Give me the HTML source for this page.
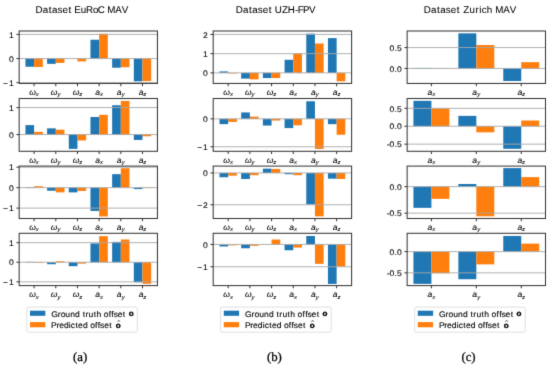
<!DOCTYPE html>
<html><head><meta charset="utf-8"><style>
html,body{margin:0;padding:0;background:#fff;}
svg{display:block;will-change:transform;}
text{text-rendering:geometricPrecision;font-family:"Liberation Sans",sans-serif;fill:#000000;stroke:#000000;stroke-width:0.1px;}
text.xl{stroke-width:0.05px;}
text.ti{stroke-width:0.04px;}
text.bo{fill:#000;stroke:#000;stroke-width:0.35px;}
text.cap{font-family:"Liberation Serif",serif;font-size:12.8px;fill:#000;stroke:#000;stroke-width:0.25px;}
</style></head><body>
<svg width="550" height="366" viewBox="0 0 550 366">
<defs><filter id="bl" x="0" y="0" width="550" height="366" filterUnits="userSpaceOnUse" color-interpolation-filters="sRGB"><feConvolveMatrix order="3" kernelMatrix="0.0183 0.1353 0.0183 0.1353 1.0000 0.1353 0.0183 0.1353 0.0183" divisor="1.6146" edgeMode="duplicate" preserveAlpha="true"/></filter></defs>
<g filter="url(#bl)">
<rect width="550" height="366" fill="#fff"/>
<rect x="25.44" y="58.55" width="8.67" height="8.19" fill="#1f77b4"/>
<rect x="34.11" y="58.55" width="8.67" height="8.44" fill="#ff7f0e"/>
<rect x="47.11" y="58.55" width="8.67" height="5.3" fill="#1f77b4"/>
<rect x="55.78" y="58.55" width="8.67" height="4.34" fill="#ff7f0e"/>
<rect x="77.46" y="58.55" width="8.67" height="2.89" fill="#ff7f0e"/>
<rect x="90.47" y="39.75" width="8.67" height="18.8" fill="#1f77b4"/>
<rect x="99.14" y="33.73" width="8.67" height="24.82" fill="#ff7f0e"/>
<rect x="112.14" y="58.55" width="8.67" height="9.16" fill="#1f77b4"/>
<rect x="120.82" y="58.55" width="8.67" height="8.68" fill="#ff7f0e"/>
<rect x="133.82" y="58.55" width="8.67" height="22.77" fill="#1f77b4"/>
<rect x="142.49" y="58.55" width="8.67" height="22.53" fill="#ff7f0e"/>
<line x1="19.15" x2="157.45" y1="34.45" y2="34.45" stroke="#a8a8a8" stroke-width="1.0" stroke-opacity="0.9"/>
<line x1="19.15" x2="157.45" y1="58.55" y2="58.55" stroke="#a8a8a8" stroke-width="1.0" stroke-opacity="0.9"/>
<line x1="19.15" x2="157.45" y1="82.65" y2="82.65" stroke="#a8a8a8" stroke-width="1.0" stroke-opacity="0.9"/>
<rect x="19.15" y="31" width="138.3" height="52.45" fill="none" stroke="#383838" stroke-width="1.05"/>
<line x1="16.45" x2="19.15" y1="34.45" y2="34.45" stroke="#383838" stroke-width="1.05"/>
<text transform="translate(8.85,37.61) scale(1.05,1)" x="0.06" y="0" font-size="8.16">1</text>
<line x1="16.45" x2="19.15" y1="58.55" y2="58.55" stroke="#383838" stroke-width="1.05"/>
<text transform="translate(8.85,61.71) scale(1.05,1)" x="0.06" y="0" font-size="8.16">0</text>
<line x1="16.45" x2="19.15" y1="82.65" y2="82.65" stroke="#383838" stroke-width="1.05"/>
<text transform="translate(2.4,85.81) scale(1.05,1)" x="0.69 6.21" y="0" font-size="8.16">−1</text>
<line x1="34.11" x2="34.11" y1="83.45" y2="86.15" stroke="#383838" stroke-width="1.05"/>
<text transform="translate(29.29,94.95) scale(1.05,1)" x="-0.11" y="0" font-size="8.16" font-style="italic" class="xl">ω</text>
<text transform="translate(35.74,96.35) scale(1.05,1)" x="0.09" y="0" font-size="5.71" font-style="italic" class="xl">x</text>
<line x1="55.78" x2="55.78" y1="83.45" y2="86.15" stroke="#383838" stroke-width="1.05"/>
<text transform="translate(50.97,94.95) scale(1.05,1)" x="-0.11" y="0" font-size="8.16" font-style="italic" class="xl">ω</text>
<text transform="translate(57.41,96.35) scale(1.05,1)" x="0.09" y="0" font-size="5.71" font-style="italic" class="xl">y</text>
<line x1="77.46" x2="77.46" y1="83.45" y2="86.15" stroke="#383838" stroke-width="1.05"/>
<text transform="translate(72.82,94.95) scale(1.05,1)" x="-0.11" y="0" font-size="8.16" font-style="italic" class="xl">ω</text>
<text transform="translate(79.27,96.35) scale(1.05,1)" x="-0.08" y="0" font-size="5.71" font-style="italic" class="xl">z</text>
<line x1="99.14" x2="99.14" y1="83.45" y2="86.15" stroke="#383838" stroke-width="1.05"/>
<text transform="translate(95.18,94.95) scale(1.05,1)" x="-0.02" y="0" font-size="8.16" font-style="italic" class="xl">a</text>
<text transform="translate(99.9,96.35) scale(1.05,1)" x="0.09" y="0" font-size="5.71" font-style="italic" class="xl">x</text>
<line x1="120.82" x2="120.82" y1="83.45" y2="86.15" stroke="#383838" stroke-width="1.05"/>
<text transform="translate(116.86,94.95) scale(1.05,1)" x="-0.02" y="0" font-size="8.16" font-style="italic" class="xl">a</text>
<text transform="translate(121.58,96.35) scale(1.05,1)" x="0.09" y="0" font-size="5.71" font-style="italic" class="xl">y</text>
<line x1="142.49" x2="142.49" y1="83.45" y2="86.15" stroke="#383838" stroke-width="1.05"/>
<text transform="translate(138.72,94.95) scale(1.05,1)" x="-0.02" y="0" font-size="8.16" font-style="italic" class="xl">a</text>
<text transform="translate(143.44,96.35) scale(1.05,1)" x="-0.08" y="0" font-size="5.71" font-style="italic" class="xl">z</text>
<rect x="25.44" y="125.1" width="8.67" height="9.45" fill="#1f77b4"/>
<rect x="34.11" y="131.85" width="8.67" height="2.7" fill="#ff7f0e"/>
<rect x="47.11" y="128.34" width="8.67" height="6.21" fill="#1f77b4"/>
<rect x="55.78" y="129.69" width="8.67" height="4.86" fill="#ff7f0e"/>
<rect x="68.79" y="134.55" width="8.67" height="14.31" fill="#1f77b4"/>
<rect x="77.46" y="134.55" width="8.67" height="5.94" fill="#ff7f0e"/>
<rect x="90.47" y="117" width="8.67" height="17.55" fill="#1f77b4"/>
<rect x="99.14" y="114.84" width="8.67" height="19.71" fill="#ff7f0e"/>
<rect x="112.14" y="105.26" width="8.67" height="29.29" fill="#1f77b4"/>
<rect x="120.82" y="100.96" width="8.67" height="33.59" fill="#ff7f0e"/>
<rect x="133.82" y="134.55" width="8.67" height="5.4" fill="#1f77b4"/>
<rect x="142.49" y="134.55" width="8.67" height="1.7" fill="#ff7f0e"/>
<line x1="19.15" x2="157.45" y1="107.55" y2="107.55" stroke="#a8a8a8" stroke-width="1.0" stroke-opacity="0.9"/>
<line x1="19.15" x2="157.45" y1="134.55" y2="134.55" stroke="#a8a8a8" stroke-width="1.0" stroke-opacity="0.9"/>
<rect x="19.15" y="98.5" width="138.3" height="52.8" fill="none" stroke="#383838" stroke-width="1.05"/>
<line x1="16.45" x2="19.15" y1="107.55" y2="107.55" stroke="#383838" stroke-width="1.05"/>
<text transform="translate(8.85,110.71) scale(1.05,1)" x="0.06" y="0" font-size="8.16">1</text>
<line x1="16.45" x2="19.15" y1="134.55" y2="134.55" stroke="#383838" stroke-width="1.05"/>
<text transform="translate(8.85,137.71) scale(1.05,1)" x="0.06" y="0" font-size="8.16">0</text>
<line x1="34.11" x2="34.11" y1="151.3" y2="154" stroke="#383838" stroke-width="1.05"/>
<text transform="translate(29.29,162.8) scale(1.05,1)" x="-0.11" y="0" font-size="8.16" font-style="italic" class="xl">ω</text>
<text transform="translate(35.74,164.2) scale(1.05,1)" x="0.09" y="0" font-size="5.71" font-style="italic" class="xl">x</text>
<line x1="55.78" x2="55.78" y1="151.3" y2="154" stroke="#383838" stroke-width="1.05"/>
<text transform="translate(50.97,162.8) scale(1.05,1)" x="-0.11" y="0" font-size="8.16" font-style="italic" class="xl">ω</text>
<text transform="translate(57.41,164.2) scale(1.05,1)" x="0.09" y="0" font-size="5.71" font-style="italic" class="xl">y</text>
<line x1="77.46" x2="77.46" y1="151.3" y2="154" stroke="#383838" stroke-width="1.05"/>
<text transform="translate(72.82,162.8) scale(1.05,1)" x="-0.11" y="0" font-size="8.16" font-style="italic" class="xl">ω</text>
<text transform="translate(79.27,164.2) scale(1.05,1)" x="-0.08" y="0" font-size="5.71" font-style="italic" class="xl">z</text>
<line x1="99.14" x2="99.14" y1="151.3" y2="154" stroke="#383838" stroke-width="1.05"/>
<text transform="translate(95.18,162.8) scale(1.05,1)" x="-0.02" y="0" font-size="8.16" font-style="italic" class="xl">a</text>
<text transform="translate(99.9,164.2) scale(1.05,1)" x="0.09" y="0" font-size="5.71" font-style="italic" class="xl">x</text>
<line x1="120.82" x2="120.82" y1="151.3" y2="154" stroke="#383838" stroke-width="1.05"/>
<text transform="translate(116.86,162.8) scale(1.05,1)" x="-0.02" y="0" font-size="8.16" font-style="italic" class="xl">a</text>
<text transform="translate(121.58,164.2) scale(1.05,1)" x="0.09" y="0" font-size="5.71" font-style="italic" class="xl">y</text>
<line x1="142.49" x2="142.49" y1="151.3" y2="154" stroke="#383838" stroke-width="1.05"/>
<text transform="translate(138.72,162.8) scale(1.05,1)" x="-0.02" y="0" font-size="8.16" font-style="italic" class="xl">a</text>
<text transform="translate(143.44,164.2) scale(1.05,1)" x="-0.08" y="0" font-size="5.71" font-style="italic" class="xl">z</text>
<rect x="25.44" y="187.65" width="8.67" height="0.41" fill="#1f77b4"/>
<rect x="34.11" y="186.22" width="8.67" height="1.43" fill="#ff7f0e"/>
<rect x="47.11" y="187.65" width="8.67" height="3.07" fill="#1f77b4"/>
<rect x="55.78" y="187.65" width="8.67" height="4.7" fill="#ff7f0e"/>
<rect x="68.79" y="187.65" width="8.67" height="4.7" fill="#1f77b4"/>
<rect x="77.46" y="187.65" width="8.67" height="3.27" fill="#ff7f0e"/>
<rect x="90.47" y="187.65" width="8.67" height="23.31" fill="#1f77b4"/>
<rect x="99.14" y="187.65" width="8.67" height="28.83" fill="#ff7f0e"/>
<rect x="112.14" y="174.15" width="8.67" height="13.5" fill="#1f77b4"/>
<rect x="120.82" y="168.22" width="8.67" height="19.43" fill="#ff7f0e"/>
<rect x="133.82" y="187.65" width="8.67" height="1.43" fill="#1f77b4"/>
<rect x="142.49" y="187.65" width="8.67" height="0.41" fill="#ff7f0e"/>
<line x1="19.15" x2="157.45" y1="167.2" y2="167.2" stroke="#a8a8a8" stroke-width="1.0" stroke-opacity="0.9"/>
<line x1="19.15" x2="157.45" y1="187.65" y2="187.65" stroke="#a8a8a8" stroke-width="1.0" stroke-opacity="0.9"/>
<line x1="19.15" x2="157.45" y1="208.1" y2="208.1" stroke="#a8a8a8" stroke-width="1.0" stroke-opacity="0.9"/>
<rect x="19.15" y="166.1" width="138.3" height="52.4" fill="none" stroke="#383838" stroke-width="1.05"/>
<line x1="16.45" x2="19.15" y1="167.2" y2="167.2" stroke="#383838" stroke-width="1.05"/>
<text transform="translate(8.85,170.36) scale(1.05,1)" x="0.06" y="0" font-size="8.16">1</text>
<line x1="16.45" x2="19.15" y1="187.65" y2="187.65" stroke="#383838" stroke-width="1.05"/>
<text transform="translate(8.85,190.81) scale(1.05,1)" x="0.06" y="0" font-size="8.16">0</text>
<line x1="16.45" x2="19.15" y1="208.1" y2="208.1" stroke="#383838" stroke-width="1.05"/>
<text transform="translate(2.4,211.26) scale(1.05,1)" x="0.69 6.21" y="0" font-size="8.16">−1</text>
<line x1="34.11" x2="34.11" y1="218.5" y2="221.2" stroke="#383838" stroke-width="1.05"/>
<text transform="translate(29.29,230) scale(1.05,1)" x="-0.11" y="0" font-size="8.16" font-style="italic" class="xl">ω</text>
<text transform="translate(35.74,231.4) scale(1.05,1)" x="0.09" y="0" font-size="5.71" font-style="italic" class="xl">x</text>
<line x1="55.78" x2="55.78" y1="218.5" y2="221.2" stroke="#383838" stroke-width="1.05"/>
<text transform="translate(50.97,230) scale(1.05,1)" x="-0.11" y="0" font-size="8.16" font-style="italic" class="xl">ω</text>
<text transform="translate(57.41,231.4) scale(1.05,1)" x="0.09" y="0" font-size="5.71" font-style="italic" class="xl">y</text>
<line x1="77.46" x2="77.46" y1="218.5" y2="221.2" stroke="#383838" stroke-width="1.05"/>
<text transform="translate(72.82,230) scale(1.05,1)" x="-0.11" y="0" font-size="8.16" font-style="italic" class="xl">ω</text>
<text transform="translate(79.27,231.4) scale(1.05,1)" x="-0.08" y="0" font-size="5.71" font-style="italic" class="xl">z</text>
<line x1="99.14" x2="99.14" y1="218.5" y2="221.2" stroke="#383838" stroke-width="1.05"/>
<text transform="translate(95.18,230) scale(1.05,1)" x="-0.02" y="0" font-size="8.16" font-style="italic" class="xl">a</text>
<text transform="translate(99.9,231.4) scale(1.05,1)" x="0.09" y="0" font-size="5.71" font-style="italic" class="xl">x</text>
<line x1="120.82" x2="120.82" y1="218.5" y2="221.2" stroke="#383838" stroke-width="1.05"/>
<text transform="translate(116.86,230) scale(1.05,1)" x="-0.02" y="0" font-size="8.16" font-style="italic" class="xl">a</text>
<text transform="translate(121.58,231.4) scale(1.05,1)" x="0.09" y="0" font-size="5.71" font-style="italic" class="xl">y</text>
<line x1="142.49" x2="142.49" y1="218.5" y2="221.2" stroke="#383838" stroke-width="1.05"/>
<text transform="translate(138.72,230) scale(1.05,1)" x="-0.02" y="0" font-size="8.16" font-style="italic" class="xl">a</text>
<text transform="translate(143.44,231.4) scale(1.05,1)" x="-0.08" y="0" font-size="5.71" font-style="italic" class="xl">z</text>
<rect x="25.44" y="261.86" width="8.67" height="0.39" fill="#1f77b4"/>
<rect x="34.11" y="262.25" width="8.67" height="0.59" fill="#ff7f0e"/>
<rect x="47.11" y="262.25" width="8.67" height="1.96" fill="#1f77b4"/>
<rect x="55.78" y="261.27" width="8.67" height="0.98" fill="#ff7f0e"/>
<rect x="68.79" y="262.25" width="8.67" height="3.92" fill="#1f77b4"/>
<rect x="77.46" y="262.25" width="8.67" height="1.37" fill="#ff7f0e"/>
<rect x="90.47" y="243.43" width="8.67" height="18.82" fill="#1f77b4"/>
<rect x="99.14" y="236.18" width="8.67" height="26.07" fill="#ff7f0e"/>
<rect x="112.14" y="241.87" width="8.67" height="20.38" fill="#1f77b4"/>
<rect x="120.82" y="239.51" width="8.67" height="22.74" fill="#ff7f0e"/>
<rect x="133.82" y="262.25" width="8.67" height="19.99" fill="#1f77b4"/>
<rect x="142.49" y="262.25" width="8.67" height="21.56" fill="#ff7f0e"/>
<line x1="19.15" x2="157.45" y1="242.65" y2="242.65" stroke="#a8a8a8" stroke-width="1.0" stroke-opacity="0.9"/>
<line x1="19.15" x2="157.45" y1="262.25" y2="262.25" stroke="#a8a8a8" stroke-width="1.0" stroke-opacity="0.9"/>
<line x1="19.15" x2="157.45" y1="281.85" y2="281.85" stroke="#a8a8a8" stroke-width="1.0" stroke-opacity="0.9"/>
<rect x="19.15" y="233.3" width="138.3" height="52.3" fill="none" stroke="#383838" stroke-width="1.05"/>
<line x1="16.45" x2="19.15" y1="242.65" y2="242.65" stroke="#383838" stroke-width="1.05"/>
<text transform="translate(8.85,245.81) scale(1.05,1)" x="0.06" y="0" font-size="8.16">1</text>
<line x1="16.45" x2="19.15" y1="262.25" y2="262.25" stroke="#383838" stroke-width="1.05"/>
<text transform="translate(8.85,265.41) scale(1.05,1)" x="0.06" y="0" font-size="8.16">0</text>
<line x1="16.45" x2="19.15" y1="281.85" y2="281.85" stroke="#383838" stroke-width="1.05"/>
<text transform="translate(2.4,285.01) scale(1.05,1)" x="0.69 6.21" y="0" font-size="8.16">−1</text>
<line x1="34.11" x2="34.11" y1="285.6" y2="288.3" stroke="#383838" stroke-width="1.05"/>
<text transform="translate(29.29,297.1) scale(1.05,1)" x="-0.11" y="0" font-size="8.16" font-style="italic" class="xl">ω</text>
<text transform="translate(35.74,298.5) scale(1.05,1)" x="0.09" y="0" font-size="5.71" font-style="italic" class="xl">x</text>
<line x1="55.78" x2="55.78" y1="285.6" y2="288.3" stroke="#383838" stroke-width="1.05"/>
<text transform="translate(50.97,297.1) scale(1.05,1)" x="-0.11" y="0" font-size="8.16" font-style="italic" class="xl">ω</text>
<text transform="translate(57.41,298.5) scale(1.05,1)" x="0.09" y="0" font-size="5.71" font-style="italic" class="xl">y</text>
<line x1="77.46" x2="77.46" y1="285.6" y2="288.3" stroke="#383838" stroke-width="1.05"/>
<text transform="translate(72.82,297.1) scale(1.05,1)" x="-0.11" y="0" font-size="8.16" font-style="italic" class="xl">ω</text>
<text transform="translate(79.27,298.5) scale(1.05,1)" x="-0.08" y="0" font-size="5.71" font-style="italic" class="xl">z</text>
<line x1="99.14" x2="99.14" y1="285.6" y2="288.3" stroke="#383838" stroke-width="1.05"/>
<text transform="translate(95.18,297.1) scale(1.05,1)" x="-0.02" y="0" font-size="8.16" font-style="italic" class="xl">a</text>
<text transform="translate(99.9,298.5) scale(1.05,1)" x="0.09" y="0" font-size="5.71" font-style="italic" class="xl">x</text>
<line x1="120.82" x2="120.82" y1="285.6" y2="288.3" stroke="#383838" stroke-width="1.05"/>
<text transform="translate(116.86,297.1) scale(1.05,1)" x="-0.02" y="0" font-size="8.16" font-style="italic" class="xl">a</text>
<text transform="translate(121.58,298.5) scale(1.05,1)" x="0.09" y="0" font-size="5.71" font-style="italic" class="xl">y</text>
<line x1="142.49" x2="142.49" y1="285.6" y2="288.3" stroke="#383838" stroke-width="1.05"/>
<text transform="translate(138.72,297.1) scale(1.05,1)" x="-0.02" y="0" font-size="8.16" font-style="italic" class="xl">a</text>
<text transform="translate(143.44,298.5) scale(1.05,1)" x="-0.08" y="0" font-size="5.71" font-style="italic" class="xl">z</text>
<rect x="219.49" y="71.41" width="8.68" height="1.44" fill="#1f77b4"/>
<rect x="228.17" y="72.85" width="8.68" height="0.58" fill="#ff7f0e"/>
<rect x="241.18" y="72.85" width="8.68" height="5.76" fill="#1f77b4"/>
<rect x="249.86" y="72.85" width="8.68" height="6.53" fill="#ff7f0e"/>
<rect x="262.88" y="72.85" width="8.68" height="5.18" fill="#1f77b4"/>
<rect x="271.55" y="72.85" width="8.68" height="5.18" fill="#ff7f0e"/>
<rect x="284.57" y="59.79" width="8.68" height="13.06" fill="#1f77b4"/>
<rect x="293.25" y="53.65" width="8.68" height="19.2" fill="#ff7f0e"/>
<rect x="306.26" y="33.68" width="8.68" height="39.17" fill="#1f77b4"/>
<rect x="314.94" y="43.47" width="8.68" height="29.38" fill="#ff7f0e"/>
<rect x="327.95" y="38.1" width="8.68" height="34.75" fill="#1f77b4"/>
<rect x="336.63" y="72.85" width="8.68" height="8.45" fill="#ff7f0e"/>
<line x1="213.2" x2="351.6" y1="34.45" y2="34.45" stroke="#a8a8a8" stroke-width="1.0" stroke-opacity="0.9"/>
<line x1="213.2" x2="351.6" y1="53.65" y2="53.65" stroke="#a8a8a8" stroke-width="1.0" stroke-opacity="0.9"/>
<line x1="213.2" x2="351.6" y1="72.85" y2="72.85" stroke="#a8a8a8" stroke-width="1.0" stroke-opacity="0.9"/>
<rect x="213.2" y="31" width="138.4" height="52.45" fill="none" stroke="#383838" stroke-width="1.05"/>
<line x1="210.5" x2="213.2" y1="34.45" y2="34.45" stroke="#383838" stroke-width="1.05"/>
<text transform="translate(202.9,37.61) scale(1.05,1)" x="0.06" y="0" font-size="8.16">2</text>
<line x1="210.5" x2="213.2" y1="53.65" y2="53.65" stroke="#383838" stroke-width="1.05"/>
<text transform="translate(202.9,56.81) scale(1.05,1)" x="0.06" y="0" font-size="8.16">1</text>
<line x1="210.5" x2="213.2" y1="72.85" y2="72.85" stroke="#383838" stroke-width="1.05"/>
<text transform="translate(202.9,76.01) scale(1.05,1)" x="0.06" y="0" font-size="8.16">0</text>
<line x1="228.17" x2="228.17" y1="83.45" y2="86.15" stroke="#383838" stroke-width="1.05"/>
<text transform="translate(223.35,94.95) scale(1.05,1)" x="-0.11" y="0" font-size="8.16" font-style="italic" class="xl">ω</text>
<text transform="translate(229.8,96.35) scale(1.05,1)" x="0.09" y="0" font-size="5.71" font-style="italic" class="xl">x</text>
<line x1="249.86" x2="249.86" y1="83.45" y2="86.15" stroke="#383838" stroke-width="1.05"/>
<text transform="translate(245.04,94.95) scale(1.05,1)" x="-0.11" y="0" font-size="8.16" font-style="italic" class="xl">ω</text>
<text transform="translate(251.49,96.35) scale(1.05,1)" x="0.09" y="0" font-size="5.71" font-style="italic" class="xl">y</text>
<line x1="271.55" x2="271.55" y1="83.45" y2="86.15" stroke="#383838" stroke-width="1.05"/>
<text transform="translate(266.91,94.95) scale(1.05,1)" x="-0.11" y="0" font-size="8.16" font-style="italic" class="xl">ω</text>
<text transform="translate(273.36,96.35) scale(1.05,1)" x="-0.08" y="0" font-size="5.71" font-style="italic" class="xl">z</text>
<line x1="293.25" x2="293.25" y1="83.45" y2="86.15" stroke="#383838" stroke-width="1.05"/>
<text transform="translate(289.29,94.95) scale(1.05,1)" x="-0.02" y="0" font-size="8.16" font-style="italic" class="xl">a</text>
<text transform="translate(294.01,96.35) scale(1.05,1)" x="0.09" y="0" font-size="5.71" font-style="italic" class="xl">x</text>
<line x1="314.94" x2="314.94" y1="83.45" y2="86.15" stroke="#383838" stroke-width="1.05"/>
<text transform="translate(310.99,94.95) scale(1.05,1)" x="-0.02" y="0" font-size="8.16" font-style="italic" class="xl">a</text>
<text transform="translate(315.7,96.35) scale(1.05,1)" x="0.09" y="0" font-size="5.71" font-style="italic" class="xl">y</text>
<line x1="336.63" x2="336.63" y1="83.45" y2="86.15" stroke="#383838" stroke-width="1.05"/>
<text transform="translate(332.86,94.95) scale(1.05,1)" x="-0.02" y="0" font-size="8.16" font-style="italic" class="xl">a</text>
<text transform="translate(337.58,96.35) scale(1.05,1)" x="-0.08" y="0" font-size="5.71" font-style="italic" class="xl">z</text>
<rect x="219.49" y="118.85" width="8.68" height="5.3" fill="#1f77b4"/>
<rect x="228.17" y="118.85" width="8.68" height="3.07" fill="#ff7f0e"/>
<rect x="241.18" y="112.43" width="8.68" height="6.42" fill="#1f77b4"/>
<rect x="249.86" y="116.62" width="8.68" height="2.23" fill="#ff7f0e"/>
<rect x="262.88" y="118.85" width="8.68" height="6.7" fill="#1f77b4"/>
<rect x="271.55" y="118.85" width="8.68" height="1.67" fill="#ff7f0e"/>
<rect x="284.57" y="118.85" width="8.68" height="9.21" fill="#1f77b4"/>
<rect x="293.25" y="118.85" width="8.68" height="6.42" fill="#ff7f0e"/>
<rect x="306.26" y="101.27" width="8.68" height="17.58" fill="#1f77b4"/>
<rect x="314.94" y="118.85" width="8.68" height="30.13" fill="#ff7f0e"/>
<rect x="327.95" y="118.85" width="8.68" height="5.3" fill="#1f77b4"/>
<rect x="336.63" y="118.85" width="8.68" height="15.9" fill="#ff7f0e"/>
<line x1="213.2" x2="351.6" y1="118.85" y2="118.85" stroke="#a8a8a8" stroke-width="1.0" stroke-opacity="0.9"/>
<line x1="213.2" x2="351.6" y1="146.75" y2="146.75" stroke="#a8a8a8" stroke-width="1.0" stroke-opacity="0.9"/>
<rect x="213.2" y="98.5" width="138.4" height="52.8" fill="none" stroke="#383838" stroke-width="1.05"/>
<line x1="210.5" x2="213.2" y1="118.85" y2="118.85" stroke="#383838" stroke-width="1.05"/>
<text transform="translate(202.9,122.01) scale(1.05,1)" x="0.06" y="0" font-size="8.16">0</text>
<line x1="210.5" x2="213.2" y1="146.75" y2="146.75" stroke="#383838" stroke-width="1.05"/>
<text transform="translate(196.45,149.91) scale(1.05,1)" x="0.69 6.21" y="0" font-size="8.16">−1</text>
<line x1="228.17" x2="228.17" y1="151.3" y2="154" stroke="#383838" stroke-width="1.05"/>
<text transform="translate(223.35,162.8) scale(1.05,1)" x="-0.11" y="0" font-size="8.16" font-style="italic" class="xl">ω</text>
<text transform="translate(229.8,164.2) scale(1.05,1)" x="0.09" y="0" font-size="5.71" font-style="italic" class="xl">x</text>
<line x1="249.86" x2="249.86" y1="151.3" y2="154" stroke="#383838" stroke-width="1.05"/>
<text transform="translate(245.04,162.8) scale(1.05,1)" x="-0.11" y="0" font-size="8.16" font-style="italic" class="xl">ω</text>
<text transform="translate(251.49,164.2) scale(1.05,1)" x="0.09" y="0" font-size="5.71" font-style="italic" class="xl">y</text>
<line x1="271.55" x2="271.55" y1="151.3" y2="154" stroke="#383838" stroke-width="1.05"/>
<text transform="translate(266.91,162.8) scale(1.05,1)" x="-0.11" y="0" font-size="8.16" font-style="italic" class="xl">ω</text>
<text transform="translate(273.36,164.2) scale(1.05,1)" x="-0.08" y="0" font-size="5.71" font-style="italic" class="xl">z</text>
<line x1="293.25" x2="293.25" y1="151.3" y2="154" stroke="#383838" stroke-width="1.05"/>
<text transform="translate(289.29,162.8) scale(1.05,1)" x="-0.02" y="0" font-size="8.16" font-style="italic" class="xl">a</text>
<text transform="translate(294.01,164.2) scale(1.05,1)" x="0.09" y="0" font-size="5.71" font-style="italic" class="xl">x</text>
<line x1="314.94" x2="314.94" y1="151.3" y2="154" stroke="#383838" stroke-width="1.05"/>
<text transform="translate(310.99,162.8) scale(1.05,1)" x="-0.02" y="0" font-size="8.16" font-style="italic" class="xl">a</text>
<text transform="translate(315.7,164.2) scale(1.05,1)" x="0.09" y="0" font-size="5.71" font-style="italic" class="xl">y</text>
<line x1="336.63" x2="336.63" y1="151.3" y2="154" stroke="#383838" stroke-width="1.05"/>
<text transform="translate(332.86,162.8) scale(1.05,1)" x="-0.02" y="0" font-size="8.16" font-style="italic" class="xl">a</text>
<text transform="translate(337.58,164.2) scale(1.05,1)" x="-0.08" y="0" font-size="5.71" font-style="italic" class="xl">z</text>
<rect x="219.49" y="172.95" width="8.68" height="4.29" fill="#1f77b4"/>
<rect x="228.17" y="172.95" width="8.68" height="2.7" fill="#ff7f0e"/>
<rect x="241.18" y="172.95" width="8.68" height="6.04" fill="#1f77b4"/>
<rect x="249.86" y="172.95" width="8.68" height="2.23" fill="#ff7f0e"/>
<rect x="262.88" y="168.66" width="8.68" height="4.29" fill="#1f77b4"/>
<rect x="271.55" y="168.97" width="8.68" height="3.98" fill="#ff7f0e"/>
<rect x="284.57" y="172.95" width="8.68" height="1.27" fill="#1f77b4"/>
<rect x="293.25" y="172.95" width="8.68" height="2.23" fill="#ff7f0e"/>
<rect x="306.26" y="172.95" width="8.68" height="31.48" fill="#1f77b4"/>
<rect x="314.94" y="172.95" width="8.68" height="43.41" fill="#ff7f0e"/>
<rect x="327.95" y="172.95" width="8.68" height="5.72" fill="#1f77b4"/>
<rect x="336.63" y="172.95" width="8.68" height="6.04" fill="#ff7f0e"/>
<line x1="213.2" x2="351.6" y1="172.95" y2="172.95" stroke="#a8a8a8" stroke-width="1.0" stroke-opacity="0.9"/>
<line x1="213.2" x2="351.6" y1="204.75" y2="204.75" stroke="#a8a8a8" stroke-width="1.0" stroke-opacity="0.9"/>
<rect x="213.2" y="166.1" width="138.4" height="52.4" fill="none" stroke="#383838" stroke-width="1.05"/>
<line x1="210.5" x2="213.2" y1="172.95" y2="172.95" stroke="#383838" stroke-width="1.05"/>
<text transform="translate(202.9,176.11) scale(1.05,1)" x="0.06" y="0" font-size="8.16">0</text>
<line x1="210.5" x2="213.2" y1="204.75" y2="204.75" stroke="#383838" stroke-width="1.05"/>
<text transform="translate(196.45,207.91) scale(1.05,1)" x="0.69 6.21" y="0" font-size="8.16">−2</text>
<line x1="228.17" x2="228.17" y1="218.5" y2="221.2" stroke="#383838" stroke-width="1.05"/>
<text transform="translate(223.35,230) scale(1.05,1)" x="-0.11" y="0" font-size="8.16" font-style="italic" class="xl">ω</text>
<text transform="translate(229.8,231.4) scale(1.05,1)" x="0.09" y="0" font-size="5.71" font-style="italic" class="xl">x</text>
<line x1="249.86" x2="249.86" y1="218.5" y2="221.2" stroke="#383838" stroke-width="1.05"/>
<text transform="translate(245.04,230) scale(1.05,1)" x="-0.11" y="0" font-size="8.16" font-style="italic" class="xl">ω</text>
<text transform="translate(251.49,231.4) scale(1.05,1)" x="0.09" y="0" font-size="5.71" font-style="italic" class="xl">y</text>
<line x1="271.55" x2="271.55" y1="218.5" y2="221.2" stroke="#383838" stroke-width="1.05"/>
<text transform="translate(266.91,230) scale(1.05,1)" x="-0.11" y="0" font-size="8.16" font-style="italic" class="xl">ω</text>
<text transform="translate(273.36,231.4) scale(1.05,1)" x="-0.08" y="0" font-size="5.71" font-style="italic" class="xl">z</text>
<line x1="293.25" x2="293.25" y1="218.5" y2="221.2" stroke="#383838" stroke-width="1.05"/>
<text transform="translate(289.29,230) scale(1.05,1)" x="-0.02" y="0" font-size="8.16" font-style="italic" class="xl">a</text>
<text transform="translate(294.01,231.4) scale(1.05,1)" x="0.09" y="0" font-size="5.71" font-style="italic" class="xl">x</text>
<line x1="314.94" x2="314.94" y1="218.5" y2="221.2" stroke="#383838" stroke-width="1.05"/>
<text transform="translate(310.99,230) scale(1.05,1)" x="-0.02" y="0" font-size="8.16" font-style="italic" class="xl">a</text>
<text transform="translate(315.7,231.4) scale(1.05,1)" x="0.09" y="0" font-size="5.71" font-style="italic" class="xl">y</text>
<line x1="336.63" x2="336.63" y1="218.5" y2="221.2" stroke="#383838" stroke-width="1.05"/>
<text transform="translate(332.86,230) scale(1.05,1)" x="-0.02" y="0" font-size="8.16" font-style="italic" class="xl">a</text>
<text transform="translate(337.58,231.4) scale(1.05,1)" x="-0.08" y="0" font-size="5.71" font-style="italic" class="xl">z</text>
<rect x="219.49" y="244.45" width="8.68" height="2.01" fill="#1f77b4"/>
<rect x="228.17" y="244.45" width="8.68" height="0.89" fill="#ff7f0e"/>
<rect x="241.18" y="244.45" width="8.68" height="3.79" fill="#1f77b4"/>
<rect x="249.86" y="244.45" width="8.68" height="1.34" fill="#ff7f0e"/>
<rect x="271.55" y="239.54" width="8.68" height="4.91" fill="#ff7f0e"/>
<rect x="284.57" y="244.45" width="8.68" height="5.8" fill="#1f77b4"/>
<rect x="293.25" y="244.45" width="8.68" height="3.12" fill="#ff7f0e"/>
<rect x="306.26" y="235.98" width="8.68" height="8.47" fill="#1f77b4"/>
<rect x="314.94" y="244.45" width="8.68" height="19.4" fill="#ff7f0e"/>
<rect x="327.95" y="244.45" width="8.68" height="39.47" fill="#1f77b4"/>
<rect x="336.63" y="244.45" width="8.68" height="22.08" fill="#ff7f0e"/>
<line x1="213.2" x2="351.6" y1="244.45" y2="244.45" stroke="#a8a8a8" stroke-width="1.0" stroke-opacity="0.9"/>
<line x1="213.2" x2="351.6" y1="266.75" y2="266.75" stroke="#a8a8a8" stroke-width="1.0" stroke-opacity="0.9"/>
<rect x="213.2" y="233.3" width="138.4" height="52.3" fill="none" stroke="#383838" stroke-width="1.05"/>
<line x1="210.5" x2="213.2" y1="244.45" y2="244.45" stroke="#383838" stroke-width="1.05"/>
<text transform="translate(202.9,247.61) scale(1.05,1)" x="0.06" y="0" font-size="8.16">0</text>
<line x1="210.5" x2="213.2" y1="266.75" y2="266.75" stroke="#383838" stroke-width="1.05"/>
<text transform="translate(196.45,269.91) scale(1.05,1)" x="0.69 6.21" y="0" font-size="8.16">−1</text>
<line x1="228.17" x2="228.17" y1="285.6" y2="288.3" stroke="#383838" stroke-width="1.05"/>
<text transform="translate(223.35,297.1) scale(1.05,1)" x="-0.11" y="0" font-size="8.16" font-style="italic" class="xl">ω</text>
<text transform="translate(229.8,298.5) scale(1.05,1)" x="0.09" y="0" font-size="5.71" font-style="italic" class="xl">x</text>
<line x1="249.86" x2="249.86" y1="285.6" y2="288.3" stroke="#383838" stroke-width="1.05"/>
<text transform="translate(245.04,297.1) scale(1.05,1)" x="-0.11" y="0" font-size="8.16" font-style="italic" class="xl">ω</text>
<text transform="translate(251.49,298.5) scale(1.05,1)" x="0.09" y="0" font-size="5.71" font-style="italic" class="xl">y</text>
<line x1="271.55" x2="271.55" y1="285.6" y2="288.3" stroke="#383838" stroke-width="1.05"/>
<text transform="translate(266.91,297.1) scale(1.05,1)" x="-0.11" y="0" font-size="8.16" font-style="italic" class="xl">ω</text>
<text transform="translate(273.36,298.5) scale(1.05,1)" x="-0.08" y="0" font-size="5.71" font-style="italic" class="xl">z</text>
<line x1="293.25" x2="293.25" y1="285.6" y2="288.3" stroke="#383838" stroke-width="1.05"/>
<text transform="translate(289.29,297.1) scale(1.05,1)" x="-0.02" y="0" font-size="8.16" font-style="italic" class="xl">a</text>
<text transform="translate(294.01,298.5) scale(1.05,1)" x="0.09" y="0" font-size="5.71" font-style="italic" class="xl">x</text>
<line x1="314.94" x2="314.94" y1="285.6" y2="288.3" stroke="#383838" stroke-width="1.05"/>
<text transform="translate(310.99,297.1) scale(1.05,1)" x="-0.02" y="0" font-size="8.16" font-style="italic" class="xl">a</text>
<text transform="translate(315.7,298.5) scale(1.05,1)" x="0.09" y="0" font-size="5.71" font-style="italic" class="xl">y</text>
<line x1="336.63" x2="336.63" y1="285.6" y2="288.3" stroke="#383838" stroke-width="1.05"/>
<text transform="translate(332.86,297.1) scale(1.05,1)" x="-0.02" y="0" font-size="8.16" font-style="italic" class="xl">a</text>
<text transform="translate(337.58,298.5) scale(1.05,1)" x="-0.08" y="0" font-size="5.71" font-style="italic" class="xl">z</text>
<rect x="413.44" y="67.95" width="17.97" height="0.5" fill="#1f77b4"/>
<rect x="431.41" y="68.12" width="17.97" height="0.33" fill="#ff7f0e"/>
<rect x="458.36" y="33.34" width="17.97" height="35.11" fill="#1f77b4"/>
<rect x="476.32" y="45.04" width="17.97" height="23.41" fill="#ff7f0e"/>
<rect x="503.28" y="68.45" width="17.97" height="12.54" fill="#1f77b4"/>
<rect x="521.24" y="62.18" width="17.97" height="6.27" fill="#ff7f0e"/>
<line x1="407.15" x2="545.5" y1="47.55" y2="47.55" stroke="#a8a8a8" stroke-width="1.0" stroke-opacity="0.9"/>
<line x1="407.15" x2="545.5" y1="68.45" y2="68.45" stroke="#a8a8a8" stroke-width="1.0" stroke-opacity="0.9"/>
<rect x="407.15" y="31" width="138.35" height="52.45" fill="none" stroke="#383838" stroke-width="1.05"/>
<line x1="404.45" x2="407.15" y1="47.55" y2="47.55" stroke="#383838" stroke-width="1.05"/>
<text transform="translate(389.5,50.71) scale(1.05,1)" x="0.06 4.7 7.06" y="0" font-size="8.16">0.5</text>
<line x1="404.45" x2="407.15" y1="68.45" y2="68.45" stroke="#383838" stroke-width="1.05"/>
<text transform="translate(389.5,71.61) scale(1.05,1)" x="0.06 4.7 7.06" y="0" font-size="8.16">0.0</text>
<line x1="431.41" x2="431.41" y1="83.45" y2="86.15" stroke="#383838" stroke-width="1.05"/>
<text transform="translate(427.45,94.95) scale(1.05,1)" x="-0.02" y="0" font-size="8.16" font-style="italic" class="xl">a</text>
<text transform="translate(432.17,96.35) scale(1.05,1)" x="0.09" y="0" font-size="5.71" font-style="italic" class="xl">x</text>
<line x1="476.32" x2="476.32" y1="83.45" y2="86.15" stroke="#383838" stroke-width="1.05"/>
<text transform="translate(472.37,94.95) scale(1.05,1)" x="-0.02" y="0" font-size="8.16" font-style="italic" class="xl">a</text>
<text transform="translate(477.09,96.35) scale(1.05,1)" x="0.09" y="0" font-size="5.71" font-style="italic" class="xl">y</text>
<line x1="521.24" x2="521.24" y1="83.45" y2="86.15" stroke="#383838" stroke-width="1.05"/>
<text transform="translate(517.47,94.95) scale(1.05,1)" x="-0.02" y="0" font-size="8.16" font-style="italic" class="xl">a</text>
<text transform="translate(522.19,96.35) scale(1.05,1)" x="-0.08" y="0" font-size="5.71" font-style="italic" class="xl">z</text>
<rect x="413.44" y="100.83" width="17.97" height="25.42" fill="#1f77b4"/>
<rect x="431.41" y="108.35" width="17.97" height="17.9" fill="#ff7f0e"/>
<rect x="458.36" y="115.87" width="17.97" height="10.38" fill="#1f77b4"/>
<rect x="476.32" y="126.25" width="17.97" height="6.09" fill="#ff7f0e"/>
<rect x="503.28" y="126.25" width="17.97" height="22.55" fill="#1f77b4"/>
<rect x="521.24" y="120.52" width="17.97" height="5.73" fill="#ff7f0e"/>
<line x1="407.15" x2="545.5" y1="108.35" y2="108.35" stroke="#a8a8a8" stroke-width="1.0" stroke-opacity="0.9"/>
<line x1="407.15" x2="545.5" y1="126.25" y2="126.25" stroke="#a8a8a8" stroke-width="1.0" stroke-opacity="0.9"/>
<line x1="407.15" x2="545.5" y1="144.15" y2="144.15" stroke="#a8a8a8" stroke-width="1.0" stroke-opacity="0.9"/>
<rect x="407.15" y="98.5" width="138.35" height="52.8" fill="none" stroke="#383838" stroke-width="1.05"/>
<line x1="404.45" x2="407.15" y1="108.35" y2="108.35" stroke="#383838" stroke-width="1.05"/>
<text transform="translate(389.5,111.51) scale(1.05,1)" x="0.06 4.7 7.06" y="0" font-size="8.16">0.5</text>
<line x1="404.45" x2="407.15" y1="126.25" y2="126.25" stroke="#383838" stroke-width="1.05"/>
<text transform="translate(389.5,129.41) scale(1.05,1)" x="0.06 4.7 7.06" y="0" font-size="8.16">0.0</text>
<line x1="404.45" x2="407.15" y1="144.15" y2="144.15" stroke="#383838" stroke-width="1.05"/>
<text transform="translate(386.73,147.31) scale(1.05,1)" x="-0.04 2.71 7.34 9.71" y="0" font-size="8.16">-0.5</text>
<line x1="431.41" x2="431.41" y1="151.3" y2="154" stroke="#383838" stroke-width="1.05"/>
<text transform="translate(427.45,162.8) scale(1.05,1)" x="-0.02" y="0" font-size="8.16" font-style="italic" class="xl">a</text>
<text transform="translate(432.17,164.2) scale(1.05,1)" x="0.09" y="0" font-size="5.71" font-style="italic" class="xl">x</text>
<line x1="476.32" x2="476.32" y1="151.3" y2="154" stroke="#383838" stroke-width="1.05"/>
<text transform="translate(472.37,162.8) scale(1.05,1)" x="-0.02" y="0" font-size="8.16" font-style="italic" class="xl">a</text>
<text transform="translate(477.09,164.2) scale(1.05,1)" x="0.09" y="0" font-size="5.71" font-style="italic" class="xl">y</text>
<line x1="521.24" x2="521.24" y1="151.3" y2="154" stroke="#383838" stroke-width="1.05"/>
<text transform="translate(517.47,162.8) scale(1.05,1)" x="-0.02" y="0" font-size="8.16" font-style="italic" class="xl">a</text>
<text transform="translate(522.19,164.2) scale(1.05,1)" x="-0.08" y="0" font-size="5.71" font-style="italic" class="xl">z</text>
<rect x="413.44" y="186.65" width="17.97" height="21.2" fill="#1f77b4"/>
<rect x="431.41" y="186.65" width="17.97" height="12.19" fill="#ff7f0e"/>
<rect x="458.36" y="184" width="17.97" height="2.65" fill="#1f77b4"/>
<rect x="476.32" y="186.65" width="17.97" height="29.68" fill="#ff7f0e"/>
<rect x="503.28" y="168.1" width="17.97" height="18.55" fill="#1f77b4"/>
<rect x="521.24" y="177.11" width="17.97" height="9.54" fill="#ff7f0e"/>
<line x1="407.15" x2="545.5" y1="186.65" y2="186.65" stroke="#a8a8a8" stroke-width="1.0" stroke-opacity="0.9"/>
<line x1="407.15" x2="545.5" y1="213.15" y2="213.15" stroke="#a8a8a8" stroke-width="1.0" stroke-opacity="0.9"/>
<rect x="407.15" y="166.1" width="138.35" height="52.4" fill="none" stroke="#383838" stroke-width="1.05"/>
<line x1="404.45" x2="407.15" y1="186.65" y2="186.65" stroke="#383838" stroke-width="1.05"/>
<text transform="translate(389.5,189.81) scale(1.05,1)" x="0.06 4.7 7.06" y="0" font-size="8.16">0.0</text>
<line x1="404.45" x2="407.15" y1="213.15" y2="213.15" stroke="#383838" stroke-width="1.05"/>
<text transform="translate(386.73,216.31) scale(1.05,1)" x="-0.04 2.71 7.34 9.71" y="0" font-size="8.16">-0.5</text>
<line x1="431.41" x2="431.41" y1="218.5" y2="221.2" stroke="#383838" stroke-width="1.05"/>
<text transform="translate(427.45,230) scale(1.05,1)" x="-0.02" y="0" font-size="8.16" font-style="italic" class="xl">a</text>
<text transform="translate(432.17,231.4) scale(1.05,1)" x="0.09" y="0" font-size="5.71" font-style="italic" class="xl">x</text>
<line x1="476.32" x2="476.32" y1="218.5" y2="221.2" stroke="#383838" stroke-width="1.05"/>
<text transform="translate(472.37,230) scale(1.05,1)" x="-0.02" y="0" font-size="8.16" font-style="italic" class="xl">a</text>
<text transform="translate(477.09,231.4) scale(1.05,1)" x="0.09" y="0" font-size="5.71" font-style="italic" class="xl">y</text>
<line x1="521.24" x2="521.24" y1="218.5" y2="221.2" stroke="#383838" stroke-width="1.05"/>
<text transform="translate(517.47,230) scale(1.05,1)" x="-0.02" y="0" font-size="8.16" font-style="italic" class="xl">a</text>
<text transform="translate(522.19,231.4) scale(1.05,1)" x="-0.08" y="0" font-size="5.71" font-style="italic" class="xl">z</text>
<rect x="413.44" y="251.65" width="17.97" height="32.22" fill="#1f77b4"/>
<rect x="431.41" y="251.65" width="17.97" height="21.62" fill="#ff7f0e"/>
<rect x="458.36" y="251.65" width="17.97" height="27.56" fill="#1f77b4"/>
<rect x="476.32" y="251.65" width="17.97" height="12.72" fill="#ff7f0e"/>
<rect x="503.28" y="235.96" width="17.97" height="15.69" fill="#1f77b4"/>
<rect x="521.24" y="243.59" width="17.97" height="8.06" fill="#ff7f0e"/>
<line x1="407.15" x2="545.5" y1="251.65" y2="251.65" stroke="#a8a8a8" stroke-width="1.0" stroke-opacity="0.9"/>
<line x1="407.15" x2="545.5" y1="272.85" y2="272.85" stroke="#a8a8a8" stroke-width="1.0" stroke-opacity="0.9"/>
<rect x="407.15" y="233.3" width="138.35" height="52.3" fill="none" stroke="#383838" stroke-width="1.05"/>
<line x1="404.45" x2="407.15" y1="251.65" y2="251.65" stroke="#383838" stroke-width="1.05"/>
<text transform="translate(389.5,254.81) scale(1.05,1)" x="0.06 4.7 7.06" y="0" font-size="8.16">0.0</text>
<line x1="404.45" x2="407.15" y1="272.85" y2="272.85" stroke="#383838" stroke-width="1.05"/>
<text transform="translate(386.73,276.01) scale(1.05,1)" x="-0.04 2.71 7.34 9.71" y="0" font-size="8.16">-0.5</text>
<line x1="431.41" x2="431.41" y1="285.6" y2="288.3" stroke="#383838" stroke-width="1.05"/>
<text transform="translate(427.45,297.1) scale(1.05,1)" x="-0.02" y="0" font-size="8.16" font-style="italic" class="xl">a</text>
<text transform="translate(432.17,298.5) scale(1.05,1)" x="0.09" y="0" font-size="5.71" font-style="italic" class="xl">x</text>
<line x1="476.32" x2="476.32" y1="285.6" y2="288.3" stroke="#383838" stroke-width="1.05"/>
<text transform="translate(472.37,297.1) scale(1.05,1)" x="-0.02" y="0" font-size="8.16" font-style="italic" class="xl">a</text>
<text transform="translate(477.09,298.5) scale(1.05,1)" x="0.09" y="0" font-size="5.71" font-style="italic" class="xl">y</text>
<line x1="521.24" x2="521.24" y1="285.6" y2="288.3" stroke="#383838" stroke-width="1.05"/>
<text transform="translate(517.47,297.1) scale(1.05,1)" x="-0.02" y="0" font-size="8.16" font-style="italic" class="xl">a</text>
<text transform="translate(522.19,298.5) scale(1.05,1)" x="-0.08" y="0" font-size="5.71" font-style="italic" class="xl">z</text>
<text transform="translate(35.5,13.4) scale(1.0,1)" x="0.02 7.23 13.24 16.53 22.04 27.02 33.05 36.33 38.82 45.21 50.54 57.4 62.23 69.11 71.85 79.82 86.14" y="0" font-size="9.8" class="ti">Dataset EuRoC MAV</text>
<text transform="translate(235.8,13.4) scale(1.0,1)" x="0.02 7.23 13.24 16.53 22.04 27.02 33.05 36.33 39.01 46.11 52.05 59.1 62.07 67.24 73.19" y="0" font-size="9.8" class="ti">Dataset UZH-FPV</text>
<text transform="translate(423.8,13.4) scale(1.0,1)" x="0.02 7.23 13.24 16.53 22.04 27.02 33.05 36.33 39.34 45.71 51.63 55.36 57.83 63.03 68.79 71.53 79.5 85.83" y="0" font-size="9.8" class="ti">Dataset Zurich MAV</text>
<rect x="26.8" y="307.1" width="110.6" height="25.1" rx="1.6" fill="#fff" stroke="#d8d8d8" stroke-width="0.8"/>
<rect x="30" y="310.7" width="15.3" height="5.1" fill="#1f77b4"/>
<rect x="30" y="322.1" width="15.3" height="5.2" fill="#ff7f0e"/>
<text transform="translate(51.6,316.5) scale(1.05,1)" x="-0.33 5.83 8.67 13.08 17.73 22.38 27.01 29.61 32.33 35.25 40.15 42.77 47.4 49.67 54.34 56.92 59.11 63.04 67.87" y="0" font-size="8.16">Ground truth offset</text>
<text x="128.71" y="316.2" font-size="8.0" font-weight="bold" class="bo">o</text>
<text transform="translate(51.6,327.8) scale(1.05,1)" x="-0.51 4.57 7.29 11.72 16.43 18.33 22.69 25.24 29.83 34.46 36.73 41.4 43.98 46.17 50.1 54.93" y="0" font-size="8.16">Predicted offset</text>
<text x="115.83" y="327.7" font-size="8.0" font-weight="bold" class="bo">o</text>
<path d="M117.68 321.7 L118.78 320.3 L119.88 321.7" fill="none" stroke="#222" stroke-width="0.75"/>
<rect x="220.6" y="307.1" width="110.6" height="25.1" rx="1.6" fill="#fff" stroke="#d8d8d8" stroke-width="0.8"/>
<rect x="223.8" y="310.7" width="15.3" height="5.1" fill="#1f77b4"/>
<rect x="223.8" y="322.1" width="15.3" height="5.2" fill="#ff7f0e"/>
<text transform="translate(245.4,316.5) scale(1.05,1)" x="-0.33 5.83 8.67 13.08 17.73 22.38 27.01 29.61 32.33 35.25 40.15 42.77 47.4 49.67 54.34 56.92 59.11 63.04 67.87" y="0" font-size="8.16">Ground truth offset</text>
<text x="322.51" y="316.2" font-size="8.0" font-weight="bold" class="bo">o</text>
<text transform="translate(245.4,327.8) scale(1.05,1)" x="-0.51 4.57 7.29 11.72 16.43 18.33 22.69 25.24 29.83 34.46 36.73 41.4 43.98 46.17 50.1 54.93" y="0" font-size="8.16">Predicted offset</text>
<text x="309.63" y="327.7" font-size="8.0" font-weight="bold" class="bo">o</text>
<path d="M311.48 321.7 L312.58 320.3 L313.68 321.7" fill="none" stroke="#222" stroke-width="0.75"/>
<rect x="414.6" y="307.1" width="110.6" height="25.1" rx="1.6" fill="#fff" stroke="#d8d8d8" stroke-width="0.8"/>
<rect x="417.8" y="310.7" width="15.3" height="5.1" fill="#1f77b4"/>
<rect x="417.8" y="322.1" width="15.3" height="5.2" fill="#ff7f0e"/>
<text transform="translate(439.4,316.5) scale(1.05,1)" x="-0.33 5.83 8.67 13.08 17.73 22.38 27.01 29.61 32.33 35.25 40.15 42.77 47.4 49.67 54.34 56.92 59.11 63.04 67.87" y="0" font-size="8.16">Ground truth offset</text>
<text x="516.51" y="316.2" font-size="8.0" font-weight="bold" class="bo">o</text>
<text transform="translate(439.4,327.8) scale(1.05,1)" x="-0.51 4.57 7.29 11.72 16.43 18.33 22.69 25.24 29.83 34.46 36.73 41.4 43.98 46.17 50.1 54.93" y="0" font-size="8.16">Predicted offset</text>
<text x="503.63" y="327.7" font-size="8.0" font-weight="bold" class="bo">o</text>
<path d="M505.48 321.7 L506.58 320.3 L507.68 321.7" fill="none" stroke="#222" stroke-width="0.75"/>
<text x="80.2" y="360.7" text-anchor="middle" class="cap">(a)</text>
<text x="274.4" y="360.7" text-anchor="middle" class="cap">(b)</text>
<text x="468.5" y="360.7" text-anchor="middle" class="cap">(c)</text>
</g>
</svg>
</body></html>
